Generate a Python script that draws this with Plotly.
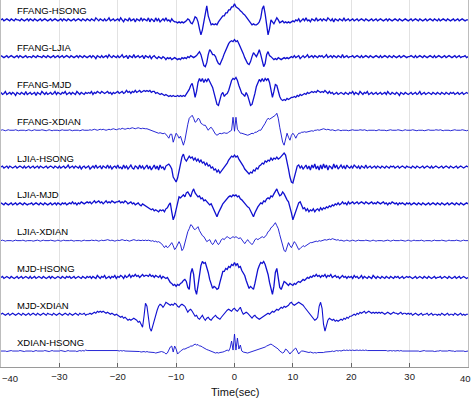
import numpy as np
import plotly.graph_objects as go

# time axis of the correlation traces (seconds), sampled every 0.25 s
TIME = -40 + 0.25 * np.arange(321)

PAIR_LABELS = ["FFANG-HSONG", "FFANG-LJIA", "FFANG-MJD", "FFANG-XDIAN", "LJIA-HSONG",
               "LJIA-MJD", "LJIA-XDIAN", "MJD-HSONG", "MJD-XDIAN", "XDIAN-HSONG"]

X_TICKS = [-40, -30, -20, -10, 0, 10, 20, 30, 40]
# the two edge labels are drawn as annotations so that they stay inside the picture
X_TICK_TEXT = ["", "\u221230", "\u221220", "\u221210", "0", "10", "20", "30", ""]
EDGE_TICK_TEXT = ["\u221240", "40"]

# amplitudes (arbitrary units, 1 unit ~ 1 pixel)
FFANG_HSONG = [
    0, 1, -1, 0, 1, 0, -1, 1, 0, -1, 1, 0, 0, -1, 1, 0, -1, 0, 1, -1,
    1, 0, -1, 1, 0, -1, 0, 1, -1, 0, 1, 0, -1, 0, 1, -1, 0, 1, 0, -1,
    0, 1, -1, 1, 0, -1, 1, 0, -1, 0, 1, -1, 0, 1, 0, -1, 1, 0, -1, 1,
    0, -1, 1, 0, -1, 2, 0, -1, 1, 0, -1, 1, -1, 0, 2, -1, 0, 1, -1, 0,
    1, -1, 2, 0, -2, 1, 0, -1, 2, -1, 0, 1, -2, 1, 0, -1, 2, -1, 1, 0,
    -1, 2, -2, 1, 0, -2, 2, -1, 1, -2, 0, 1, -1, 2, -1, 0, -2, 1, -1, -2,
    -2, -3, -2, -3, -2, -3, -2, -1, 1, 0, -3, -4, -1, 3, 2, -2, -9, -15, -10, -2,
    10, 14, 4, -2, -5, -4, -5, -4, -5, -2, 0, 1, 4, 4, 7, 7, 10, 10, 13, 13,
    16, 13, 12, 11, 9, 8, 6, 5, 3, 1, 0, -2, -5, -4, -5, -5, -4, -2, 2, 11,
    14, 6, -6, -15, -9, 0, -2, -4, -1, 2, 0, -3, -2, -1, -3, -2, -3, -2, -3, -2,
    -1, -2, 0, -1, 1, -2, 0, 1, -1, 2, -1, 0, -2, 1, 0, -1, 2, -1, 0, 1,
    -1, 1, 0, -1, 2, 0, -1, 1, -2, 1, 0, -1, 1, 0, -1, 2, -1, 0, 1, -1,
    0, 1, -1, 0, 1, -1, 0, 1, 0, -1, 1, 0, -1, 0, 1, -1, 0, 1, -1, 0,
    1, 0, -1, 0, 1, -1, 1, 0, -1, 0, 1, 0, -1, 1, 0, -1, 0, 1, 0, -1,
    0, 1, -1, 0, 1, 0, -1, 1, 0, -1, 0, 1, -1, 0, 1, 0, -1, 1, 0, -1,
    1, -1, 0, 1, 0, -1, 1, 0, -1, 0, 1, -1, 0, 1, -1, 0, 1, 0, -1, 0,
    0]

FFANG_LJIA = [
    1, 0, -1, 0, 1, -1, 0, 1, 0, -1, 0, 1, -1, 1, 0, -1, 0, 1, -1, 0,
    0, -1, 1, 0, -1, 1, 0, 0, -1, 1, 0, -1, 1, 0, -1, 0, 1, -1, 0, 1,
    -1, 0, 1, -1, 0, 1, 0, -1, 1, 0, -1, 0, 1, -1, 1, 0, -1, 1, 0, -1,
    0, 1, -1, 1, 0, -2, 1, 0, -1, 1, -1, 0, 1, -1, 2, 0, -1, 1, 0, -1,
    1, -1, 0, 2, -1, 0, 1, -2, 1, 0, -1, 2, -1, 0, 1, -1, 0, 1, -2, 1,
    0, -1, 1, -2, 0, 1, -1, -2, 0, -1, -2, 0, -1, -3, -1, -2, -1, -3, -2, -1,
    -2, -3, -2, -3, -1, -2, -1, -2, 0, -1, 1, 0, -1, 0, 1, 3, 5, 2, -5, -9,
    -10, -6, 2, 7, 5, 2, 2, 0, -4, -7, -8, -5, -1, 3, 7, 10, 13, 15, 16, 15,
    17, 15, 16, 13, 10, 7, 3, -1, -5, -7, -8, -5, 0, 4, 2, 0, 3, 7, 2, -6,
    -10, -7, 2, 5, 1, 0, -2, -3, -2, -3, -1, -2, -3, -2, -1, -2, -1, -2, -1, 0,
    -1, 1, -1, 0, 1, -2, 0, 1, -1, 0, 2, -1, 0, 1, -1, 1, 0, -1, 1, 0,
    1, -1, 0, 2, -1, 0, 1, -1, 1, 0, -1, 1, 0, -1, 2, -1, 0, 1, -1, 0,
    0, 1, -1, 0, 1, 0, -1, 1, -1, 0, 1, 0, -1, 1, 0, -1, 0, 1, 0, -1,
    1, -1, 0, 1, 0, -1, 1, 0, -1, 1, 0, -1, 0, 1, -1, 0, 1, 0, -1, 0,
    0, 1, 0, -1, 1, -1, 0, 1, 0, -1, 1, 0, -1, 0, 1, 0, -1, 1, -1, 0,
    1, 0, -1, 0, 1, -1, 0, 1, 0, -1, 0, 1, -1, 0, 1, -1, 0, 0, 1, -1,
    0]

FFANG_MJD = [
    1, -1, 0, 2, -1, 0, 1, -1, 1, 0, -2, 1, 0, -1, 1, 0, -1, 2, -1, 0,
    1, -1, 0, 1, -2, 1, 0, -1, 2, 0, -1, 1, -1, 0, 1, -1, 0, 2, -1, 1,
    0, -1, 1, 0, 2, -1, 0, 1, -1, 1, 0, -1, 2, 0, -1, 1, 0, -1, 1, 0,
    1, 0, 2, -1, 1, 0, 2, 1, 0, 2, 1, 0, 1, 2, 0, 1, -1, 1, 0, 1,
    2, 0, 1, 2, 0, 1, 3, 1, 2, 0, 2, 1, 3, 1, 2, 3, 1, 2, 3, 2,
    3, 2, 3, 1, 2, 2, 0, 1, 0, -1, 0, -1, -2, -1, -2, -3, -2, -3, -2, -3,
    -3, -2, -3, -2, -3, -2, -3, -1, 1, 4, 8, 10, 4, -4, 2, 11, 15, 12, 15, 11,
    14, 12, 15, 11, 9, 6, 0, -7, -11, -12, -6, -1, 1, -3, -1, 0, 3, 8, 13, 15,
    14, 16, 13, 8, 3, 0, -1, -3, 1, -2, -7, -12, -11, -6, 0, 7, 11, 14, 12, 15,
    12, 15, 13, 15, 11, 4, -4, 2, 9, 8, 2, -3, -6, -7, -6, -7, -5, -6, -5, -4,
    -4, -3, -4, -2, -3, -1, -2, -1, 0, -1, 1, 0, 1, 2, 1, 2, 1, 3, 2, 1,
    2, 1, 3, 1, 0, 2, 0, 1, -1, 0, 1, -1, 0, 1, 0, -1, 1, 0, -1, 1,
    0, 2, -1, 1, 0, -1, 2, 0, -1, 1, 0, 2, -1, 0, 1, -1, 0, 1, -1, 0,
    1, -1, 0, 1, -1, 2, 0, -1, 1, 0, -1, 1, 0, -2, 1, 0, -1, 1, 0, -1,
    0, 1, -1, 0, 1, -1, 0, 2, -1, 0, 1, -1, 0, 1, 0, -1, 1, 0, -1, 1,
    0, -1, 1, 0, -1, 1, 0, -1, 1, 0, 1, -1, 0, 1, -1, 0, 1, -1, 0, 1,
    0]

FFANG_XDIAN = [
    0, 0.5, 0, -0.5, 0, 0.5, 0, 0, -0.5, 0, 0.5, 0, -0.5, 0, 0, 0.5, 0, -0.5, 0, 0.5,
    0, -0.5, 0, 0.5, 0, 0, -0.5, 0, 0.5, 0, 0, -0.5, 0, 0.5, 0, -0.5, 0, 0, 0.5, 0,
    -0.5, 0, 0.5, 0, 0, -0.5, 0, 0.5, 0, -0.5, 0, 0, 0.5, 0, -0.5, 0, 0.5, 0, 0, -0.5,
    0, 0.5, 0, 0.5, 1, 0.5, 0, 0.5, 1, 0.5, 1, 0.5, 0, 0.5, 1, 0.5, 1, 1.5, 1, 0.5,
    1, 1.5, 1, 2, 1.5, 1, 1.5, 2, 1.5, 2, 2.5, 2, 1.5, 2, 2.5, 2, 1.5, 2, 1.5, 1.5,
    1.5, 1, 0.5, 0, -1, -1.5, -2, -2.5, -3, -2.5, -3, -3.5, -3, -4, -6, -8, -4, -4, -12, -8,
    -3, -5, -8, -6, -10, -15, -10, 0, 6, 12, 14, 15, 12, 8, 9, 12, 11, 7, 6, 5,
    5, 3, 0, 2, 3, 1, -2, -4, -5, -4, -3, -3.5, -3, -2.5, -3, -3, -2, -1, 0, 13,
    -1, 13, 1, -1, -3, -3, -3.5, -4, -4, -5, -4.5, -4, -3, -3.5, -2, -2, -1, 0, 0, 2,
    5, 7, 10, 12, 11, 12, 13, 14, 15, 17, 12, 3, -5, -12, -15, -8, -3, -7, -10, -5,
    -3, -5, -8, -5, -3, -3, -2, -2, -1.5, -2, -1.5, -1, -1, -0.5, -1, 0, 0, 0.5, 0, 0.5,
    1, 1.5, 1, 0.5, 1, 0.5, 0, 0.5, 0, -0.5, 0, 0.5, 0, -0.5, 0, 0, 0.5, 0, -0.5, 0,
    0, 0.5, 0, 0, -0.5, 0, 0.5, 0, 0, 0.5, 0, -0.5, 0, 0, 0.5, 0, 0, -0.5, 0, 0.5,
    0, 0, 0.5, 0, -0.5, 0, 0, 0.5, 0, 0, -0.5, 0, 0.5, 0, 0, -0.5, 0, 0.5, 0, 0,
    -0.5, 0, 0.5, 0, 0, -0.5, 0, 0, 0.5, 0, -0.5, 0, 0, 0.5, 0, 0, -0.5, 0, 0.5, 0,
    0, 0.5, 0, -0.5, 0, 0, 0.5, 0, -0.5, 0, 0, 0.5, 0, 0, -0.5, 0, 0.5, 0, 0, -0.5,
    0]

LJIA_HSONG = [
    0, 1, -1, 0, 1, -1, 1, 0, -1, 0, 1, -1, 0, 1, 0, -1, 1, -1, 0, 1,
    -1, 0, 1, -1, 0, 1, -1, 1, 0, -1, 0, 1, -1, 0, 1, 0, -1, 1, 0, -1,
    1, -1, 0, 1, -1, 0, 2, -1, 0, 1, -1, 1, 0, -1, 1, -2, 0, 1, -1, 0,
    1, -2, 0, 1, -1, 2, -1, 0, 1, -2, 1, 0, -1, 2, -1, 1, -2, 0, 1, -1,
    2, -1, 0, -2, 2, -1, 1, -2, 0, 2, -1, -2, 1, 0, -2, 2, -1, 1, -2, 0,
    2, -2, 1, -3, 0, 2, -2, 1, -3, 2, -1, 0, -3, 1, 2, 3, 1, -2, -10, -13,
    -15, -11, -4, 3, 10, 13, 8, 6, 9, 11, 9, 10, 7, 9, 6, 8, 5, 7, 4, 5,
    2, 4, 1, 2, -1, 0, -3, -2, -5, -3, -6, -4, -3, -1, 2, 4, 7, 9, 11, 10,
    12, 10, 11, 8, 6, 3, 1, -2, -4, -6, -7, -5, -6, -3, -4, -1, -2, 1, 2, 4,
    3, 6, 5, 7, 6, 9, 7, 9, 8, 10, 8, 9, 11, 12, 14, 12, 6, -2, -10, -15,
    -16, -10, -4, 1, 2, -1, 1, -2, 0, 2, -2, 1, -3, 2, -1, 3, -2, 1, -3, 2,
    -2, 3, -1, 2, -3, 1, 0, -2, 3, -1, 2, -2, 0, 2, -1, 1, -2, 2, 0, -1,
    1, -1, 2, 0, -1, 1, -2, 1, 0, -1, 2, -1, 0, 1, -1, 0, 1, -1, 1, 0,
    -1, 1, 0, -1, 1, 0, -1, 1, 0, 1, -1, 0, 1, -1, 0, 1, 0, -1, 1, 0,
    0, -1, 1, 0, -1, 1, 0, -1, 0, 1, -1, 0, 1, 0, -1, 1, -1, 0, 1, 0,
    -1, 0, 1, -1, 0, 1, 0, -1, 1, 0, -1, 0, 1, -1, 0, 1, 0, -1, 0, 1,
    0]

LJIA_MJD = [
    1, 0, -1, 1, 0, -1, 0, 1, -1, 0, 1, -1, 0, 1, 0, -1, 1, 0, -1, 0,
    0, 1, -1, 0, 1, 0, -1, 1, 0, -1, 1, 0, -1, 0, 1, -1, 0, 1, -1, 1,
    0, -1, 1, 0, 1, -1, 0, 1, 0, 2, 0, 1, -1, 1, 0, 2, 1, 0, 1, 2,
    1, 2, 0, 2, 3, 1, 2, 3, 1, 2, 0, 2, 3, 1, 2, 1, 3, 2, 1, 2,
    2, 3, 1, 2, 1, 3, 2, 0, 1, 2, 0, 1, -1, 0, 1, -1, -2, 0, -1, -2,
    -3, -4, -5, -6, -5, -7, -6, -7, -8, -6, -7, -6, -8, -5, -4, -1, 1, -8, -16, -12,
    -6, 2, 7, 6, 8, 9, 7, 11, 12, 9, 7, 12, 15, 11, 9, 7, 8, 5, 6, 3,
    4, 2, 1, -1, 0, -3, -6, -10, -13, -9, -5, -3, 0, 2, 4, 6, 7, 8, 7, 9,
    8, 9, 7, 8, 5, 4, 2, 0, -1, -3, -4, -7, -10, -13, -9, -5, -3, -1, 1, 0,
    3, 2, 5, 6, 5, 8, 7, 10, 12, 15, 11, 8, 9, 12, 10, 6, 4, 2, -3, -9,
    -16, -12, -6, -2, 1, 2, -2, -5, -4, -7, -5, -8, -6, -7, -5, -8, -6, -5, -7, -4,
    -6, -4, -5, -3, -4, -2, -3, -1, -2, 0, -1, 1, -1, 0, 2, 0, 1, -1, 2, 0,
    1, 2, 0, 1, 2, 0, 1, 2, 1, 0, 2, 1, 0, 1, 2, 0, 1, 0, 2, 1,
    0, 1, 2, 0, 1, -1, 1, 0, 2, 1, 0, 1, -1, 1, 0, 1, 0, -1, 1, 0,
    1, -1, 0, 1, 0, -1, 1, 0, -1, 1, 0, -1, 0, 1, -1, 0, 1, 0, -1, 1,
    0, -1, 1, 0, -1, 0, 1, -1, 0, 1, 0, -1, 1, 0, -1, 1, 0, -1, 0, 1,
    0]

LJIA_XDIAN = [
    0, 0.5, 0, -0.5, 0, 0, 0.5, 0, -0.5, 0, 0.5, 0, 0, -0.5, 0, 0.5, 0, -0.5, 0, 0,
    0.5, 0, -0.5, 0, 0, 0.5, 0, -0.5, 0, 0.5, 0, 0, -0.5, 0, 0.5, 0, 0, -0.5, 0, 0.5,
    0, -0.5, 0, 0.5, 0, 0, -0.5, 0, 0.5, 0, -0.5, 0, 0, 0.5, 0, -0.5, 0, 0.5, 0, 0,
    -0.5, 0, 0.5, 0, 0, 0.5, 0, -0.5, 0, 0.5, 0, 0, 0.5, 1, 0.5, 0, 0.5, 0, -0.5, 0,
    0.5, 0, 0.5, 1, 0.5, 0, 0.5, 0, -0.5, 0, 0.5, 1, 0.5, 0, 0.5, 0, 0, 0.5, 0, 0.5,
    0, 0.5, 0, -0.5, 0, -1, -0.5, -1.5, -1, -2, -3, -5, -7, -5, -7, -6, -4, -2, -5, -9,
    -7, -3, -1, -4, -10, -8, -2, 4, 9, 12, 16, 15, 12, 11, 13, 14, 10, 7, 5, 4,
    1, -1, 0, 1, -2, -4, -2, 1, -2, -4, -2, 1, 2, 1, 3, 4, 3, 2, 3, 4,
    3, 4, 3, 2, 3, 1, -1, -3, -1, 1, -1, -3, -4, -2, 1, 2, 1, 2, 3, 4,
    3, 4, 6, 9, 10, 13, 14, 16, 18, 15, 12, 6, 0, -5, -10, -11, -6, -2, -5, -7,
    -4, -1, -3, -6, -9, -8, -6, -5, -6, -5, -4, -3, -2, -2, -1.5, -1, -0.5, -1, 0, -0.5,
    0, 0.5, 1, 0.5, 1, 1.5, 1, 2, 1.5, 1, 0.5, 1, 0, 0.5, 0, -0.5, 0, 0.5, 0, -0.5,
    0, 0.5, 0, -0.5, 0, 0.5, 0, 0, -0.5, 0, 0.5, 0, 0, -0.5, 0, 0.5, 0, -0.5, 0, 0,
    0.5, 0, -0.5, 0, 0, 0.5, 0, -0.5, 0, 0.5, 0, 0, -0.5, 0, 0.5, 0, 0, -0.5, 0, 0.5,
    0, -0.5, 0, 0.5, 0, 0, -0.5, 0, 0.5, 0, -0.5, 0, 0, 0.5, 0, -0.5, 0, 0.5, 0, 0,
    -0.5, 0, 0.5, 0, 0, -0.5, 0, 0.5, 0, 0, -0.5, 0, 0.5, 0, 0, -0.5, 0, 0.5, 0, 0,
    0]

MJD_HSONG = [
    0, 1, -1, 0, 1, 0, -1, 1, 0, -1, 0, 1, -1, 0, 1, -1, 0, 1, 0, -1,
    1, -1, 0, 1, -1, 0, 1, 0, -1, 1, 0, -1, 0, 1, -1, 1, 0, -1, 0, 1,
    0, -1, 1, 0, -1, 1, 0, 1, -1, 0, 1, -1, 0, 1, 0, -1, 1, 0, -1, 1,
    0, 1, -1, 1, 0, -1, 2, 0, -1, 1, 0, 2, -1, 0, 1, -1, 1, 0, 2, -1,
    1, 0, 2, 1, -1, 2, 0, 1, 3, 0, 2, 1, 3, 1, 2, 0, 2, 3, 1, 2,
    2, 1, 3, 1, 2, 0, 2, 1, 0, 2, -1, 1, 0, -1, 0, -3, -5, -6, -8, -7,
    -9, -7, -8, -6, -5, -3, -2, -4, -10, -12, 4, 9, 3, -12, -17, -8, 2, 12, 16, 14,
    15, 11, 5, -2, -8, -11, -9, -10, -12, -11, -5, 2, 6, 6, 9, 8, 11, 10, 13, 12,
    15, 12, 14, 10, 11, 7, 5, 2, -3, -8, -11, -9, -11, -12, -6, 3, 8, 12, 15, 14,
    16, 13, 9, 3, -5, -12, -17, -9, 5, 9, -2, -10, -12, -8, -4, -5, -7, -8, -6, -7,
    -8, -6, -7, -5, -4, -5, -3, -2, -3, -1, 0, -1, 1, 0, 2, 1, 3, 1, 2, 0,
    2, 1, 3, 0, 2, 1, 3, 0, 1, 2, 0, 1, -1, 1, 2, 0, 1, -1, 1, 0,
    1, -1, 2, 0, 1, -1, 0, 2, -1, 1, 0, -1, 1, 0, -1, 2, 0, -1, 1, 0,
    -1, 1, 0, -1, 1, 0, -1, 1, 0, -1, 1, 0, 1, -1, 0, 1, -1, 0, 1, 0,
    1, 0, -1, 0, 1, -1, 0, 1, 0, -1, 1, 0, -1, 1, 0, -1, 0, 1, -1, 0,
    0, 1, -1, 0, 1, 0, -1, 1, 0, -1, 0, 1, -1, 0, 1, -1, 0, 1, 0, -1,
    0]

MJD_XDIAN = [
    0, 1, 0, -1, 0, 1, -1, 0, 1, 0, -1, 0, 1, 0, -1, 1, 0, -1, 0, 1,
    -1, 0, 1, 0, -1, 1, 0, -1, 0, 1, 0, -1, 1, 0, 0, -1, 1, 0, -1, 0,
    1, 0, -1, 0, 1, 0, -1, 1, 0, -1, 0, 1, 0, -1, 1, 0, 0, 1, -1, 0,
    0, 1, 0, 1, 2, 1, 3, 2, 3, 2, 3, 2, 1, 2, 1, 0, 1, 0, -1, 0,
    -1, -2, -3, -2, -4, -3, -5, -6, -5, -6, -5, -4, -5, -6, -8, -7, -10, -13, -2, 11,
    8, -3, -14, -17, -11, -5, 0, 4, 8, 10, 9, 7, 9, 12, 11, 10, 9, 10, 9, 11,
    10, 8, 7, 9, 10, 9, 8, 5, 2, 4, 5, 3, 1, -2, -1, -4, -5, -3, -1, -4,
    -6, -4, -3, -5, -6, -4, -2, -1, -3, -4, -5, -3, -1, 1, 2, 4, 5, 4, 3, 5,
    6, 4, 3, 5, 7, 3, 0, 1, 2, 1, -1, -3, -4, -2, -1, -3, -4, -5, -4, -3,
    -2, -1, 0, 1, 0, 2, 3, 2, 4, 5, 4, 6, 7, 6, 8, 7, 8, 9, 11, 12,
    10, 9, 10, 11, 12, 11, 10, 9, 7, 5, 3, 2, 0, -3, -5, -6, -5, -3, 8, 12,
    6, -10, -17, -12, -6, -4, -5, -6, -5, -7, -6, -7, -6, -5, -6, -4, -5, -3, -4, -2,
    -2, -1, 0, -1, 1, 0, 2, 1, 2, 3, 1, 2, 3, 2, 1, 2, 1, 2, 1, 2,
    1, 2, 1, 0, 1, 2, 1, 0, 1, 2, 1, 1, 0, 1, 2, 0, 1, 1, 0, 1,
    0, 1, -1, 0, 1, 0, -1, 0, 1, -1, 0, 0, 1, -1, 0, 1, -1, 0, 0, -1,
    0, -1, 1, 0, -1, 0, 1, -1, 0, 0, -1, 1, 0, -1, 0, 1, -1, 0, -1, 0,
    0]

XDIAN_HSONG = [
    0, 0, 0.5, 0, -0.5, 0, 0, 0.5, 0, 0, -0.5, 0, 0, 0.5, 0, 0, -0.5, 0, 0, 0.5,
    0, 0, -0.5, 0, 0.5, 0, 0, -0.5, 0, 0, 0.5, 0, 0, -0.5, 0, 0.5, 0, 0, -0.5, 0,
    0, 0.5, 0, 0, -0.5, 0, 0.5, 0, 0, 0.5, 0, 0, -0.5, 0, 0.5, 0, 0.5, 0, 1, 0.5,
    0.5, 1, 0.5, 1, 0.5, 1, 1, 0.5, 1, 0.5, 1, 1, 0.5, 1, 0.5, 1, 0.5, 0.5, 1, 0.5,
    0.5, 0, 0.5, 0, 0.5, 0, 0, -0.5, 0, 0, -0.5, 0, -0.5, -0.5, 0, -0.5, -1, -0.5, -0.5, -1,
    -0.5, -1, -1, -1.5, -1, -1.5, -2, -1.5, -1, -1, -0.5, -1, -1.5, -3, -2, 1, 4, 5, -1, 5,
    2, -3, -1, 0, 1, 2, 2, 3, 3.5, 4, 5, 5, 6, 7, 6, 6.5, 5, 5, 4, 3,
    2, 1.5, 1, 0.5, 0, -0.5, -1, -2, -1.5, -2, -1.5, -1.5, -1, -0.5, 0, 1, 0, 3, 10, 1,
    17, 1, 13, 2, 6, 0, -1, -1.5, -2, -2, -1.5, -1, -1, -0.5, 0, 0.5, 1, 1.5, 2, 2.5,
    3, 4, 5, 5.5, 6, 7, 6, 5, 4, 3, 2, 0, -1, -2, -1, 2, 1, -1, -3, -1,
    0, 2, 3, 0, -3, -1, 0, 0, -0.5, -1, -1, -1.5, -1, -1.5, -2, -1.5, -2, -1.5, -1.5, -2,
    -1.5, -1.5, -1, -1, -0.5, -1, -0.5, 0, -0.5, 0, 0.5, 0, 0.5, 0, 0.5, 1, 0.5, 1, 0.5, 1,
    0.5, 1, 0.5, 1, 1, 0.5, 1, 0.5, 1, 0.5, 1, 0.5, 0.5, 1, 0.5, 1, 0.5, 0.5, 1, 0.5,
    1, 0.5, 0.5, 1, 0.5, 0, 0.5, 0.5, 0, 0.5, 0, 0.5, 0.5, 0, 0.5, 0, 0, 0.5, 0, 0.5,
    0, 0.5, 0, 0, 0.5, 0, 0, -0.5, 0, 0, 0.5, 0, 0, 0, 0.5, 0, 0, -0.5, 0, 0,
    0, 0.5, 0, 0, -0.5, 0, 0, 0.5, 0, 0, 0, -0.5, 0, 0, 0.5, 0, 0, 0, -0.5, 0,
    0]

TRACES = [FFANG_HSONG, FFANG_LJIA, FFANG_MJD, FFANG_XDIAN, LJIA_HSONG,
          LJIA_MJD, LJIA_XDIAN, MJD_HSONG, MJD_XDIAN, XDIAN_HSONG]
# drawn line weight per trace (noisy traces look heavier in the reference)
LINE_WIDTHS = [1.3, 1.3, 1.3, 0.9, 1.3, 1.3, 0.9, 1.3, 1.1, 0.9]

SPACING = 36.9
LINE_COLOR = "#1010d0"
FONT = "Liberation Sans, Arial, sans-serif"
TICK_FONT = dict(family=FONT, size=9.5, color="#222222")

fig = go.Figure()
n = len(TRACES)
for i, (label, amp, lw) in enumerate(zip(PAIR_LABELS, TRACES, LINE_WIDTHS)):
    assert len(amp) == len(TIME), (label, len(amp))
    base = (n - 1 - i) * SPACING
    fig.add_trace(go.Scatter(
        x=TIME, y=base + np.asarray(amp, dtype=float), mode="lines",
        line=dict(color=LINE_COLOR, width=lw), hoverinfo="skip", showlegend=False))
    fig.add_annotation(x=-37.6, y=base + 9, xref="x", yref="y", text=label,
                       showarrow=False, xanchor="left", yanchor="middle",
                       font=dict(family=FONT, size=9.5, color="#000000"))

# edge tick labels (-40 at the left edge, 40 at the right edge)
fig.add_annotation(x=0, xref="paper", y=0, yref="paper", xanchor="left", yanchor="top",
                   xshift=-1, yshift=-4, text=EDGE_TICK_TEXT[0], showarrow=False,
                   font=TICK_FONT)
fig.add_annotation(x=1, xref="paper", y=0, yref="paper", xanchor="right", yanchor="top",
                   xshift=5, yshift=-4, text=EDGE_TICK_TEXT[1], showarrow=False,
                   font=TICK_FONT)

fig.add_annotation(x=0, xref="x", y=0, yref="paper", yanchor="top", yshift=-17,
                   text="Time(sec)", showarrow=False,
                   font=dict(family=FONT, size=11, color="#111111"))

fig.update_layout(
    width=474, height=398,
    margin=dict(l=1, r=6, t=0, b=31),
    paper_bgcolor="white", plot_bgcolor="white",
    xaxis=dict(range=[-40, 40], tickvals=X_TICKS, ticktext=X_TICK_TEXT,
               showgrid=True, gridcolor="#e2e2e2", ticklabelstandoff=1,
               gridwidth=1, zeroline=False, ticks="inside", ticklen=4, tickcolor="#666666",
               showline=True, linecolor="#9a9a9a", linewidth=1, automargin=False,
               tickfont=TICK_FONT),
    yaxis=dict(range=[-16, 352], showticklabels=False, showgrid=False, zeroline=False,
               showline=True, mirror=True, linecolor="#bdbdbd", ticks="", automargin=False),
)

fig.write_html("out.html", config={"displayModeBar": False},
               post_script="document.body.style.margin='0';document.body.style.padding='0';")
